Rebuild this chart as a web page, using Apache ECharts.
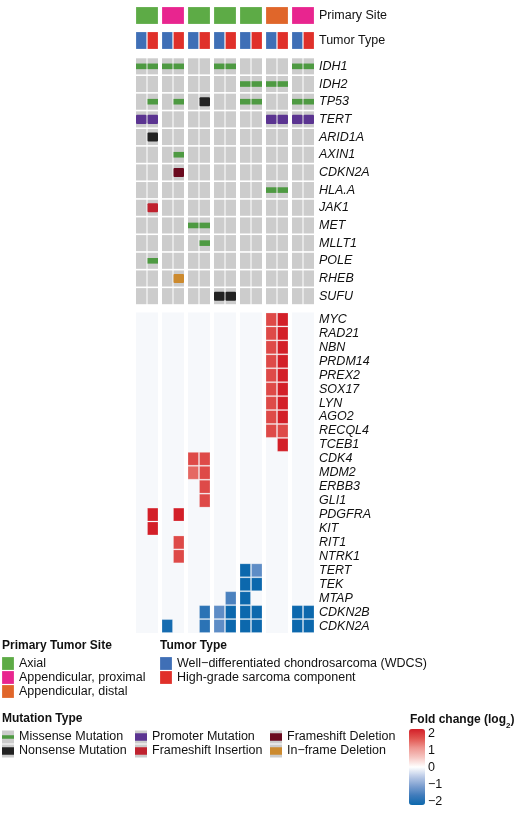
<!DOCTYPE html>
<html><head><meta charset="utf-8">
<script src="https://cdn.jsdelivr.net/npm/echarts@6/dist/echarts.min.js"></script>
<style>html,body{margin:0;padding:0;background:#fff}#c{width:520px;height:813px}</style>
</head><body><div id="c"></div>
<script>
// ---------------- DATA ----------------
const patients = ['P1','P2','P3','P4','P5','P6','P7'];
const primarySite = ['Axial','Appendicular, proximal','Axial','Axial','Axial','Appendicular, distal','Appendicular, proximal'];
const siteNames = ['Axial','Appendicular, proximal','Appendicular, distal'];
const tumorTypes = ['Well\u2212differentiated chondrosarcoma (WDCS)','High-grade sarcoma component'];
const tumorShort = ['WDCS','HG'];
const mutationGenes = ['IDH1','IDH2','TP53','TERT','ARID1A','AXIN1','CDKN2A','HLA.A','JAK1','MET','MLLT1','POLE','RHEB','SUFU'];
const mutationTypes = ['Missense Mutation','Nonsense Mutation','Promoter Mutation','Frameshift Insertion','Frameshift Deletion','In\u2212frame Deletion'];
// [gene, column index (patient*2 + tumor type), mutation type]
const mutations = [
  ['IDH1',0,'Missense Mutation'],['IDH1',1,'Missense Mutation'],['IDH1',2,'Missense Mutation'],['IDH1',3,'Missense Mutation'],
  ['IDH1',6,'Missense Mutation'],['IDH1',7,'Missense Mutation'],['IDH1',12,'Missense Mutation'],['IDH1',13,'Missense Mutation'],
  ['IDH2',8,'Missense Mutation'],['IDH2',9,'Missense Mutation'],['IDH2',10,'Missense Mutation'],['IDH2',11,'Missense Mutation'],
  ['TP53',1,'Missense Mutation'],['TP53',3,'Missense Mutation'],['TP53',5,'Nonsense Mutation'],['TP53',8,'Missense Mutation'],
  ['TP53',9,'Missense Mutation'],['TP53',12,'Missense Mutation'],['TP53',13,'Missense Mutation'],
  ['TERT',0,'Promoter Mutation'],['TERT',1,'Promoter Mutation'],['TERT',10,'Promoter Mutation'],['TERT',11,'Promoter Mutation'],
  ['TERT',12,'Promoter Mutation'],['TERT',13,'Promoter Mutation'],
  ['ARID1A',1,'Nonsense Mutation'],
  ['AXIN1',3,'Missense Mutation'],
  ['CDKN2A',3,'Frameshift Deletion'],
  ['HLA.A',10,'Missense Mutation'],['HLA.A',11,'Missense Mutation'],
  ['JAK1',1,'Frameshift Insertion'],
  ['MET',4,'Missense Mutation'],['MET',5,'Missense Mutation'],
  ['MLLT1',5,'Missense Mutation'],
  ['POLE',1,'Missense Mutation'],
  ['RHEB',3,'In\u2212frame Deletion'],
  ['SUFU',6,'Nonsense Mutation'],['SUFU',7,'Nonsense Mutation']
];
const cnvGenes = ['MYC','RAD21','NBN','PRDM14','PREX2','SOX17','LYN','AGO2','RECQL4','TCEB1','CDK4','MDM2','ERBB3','GLI1','PDGFRA','KIT','RIT1','NTRK1','TERT','TEK','MTAP','CDKN2B','CDKN2A'];
// [gene, column index, log2 fold change]
const cnvValues = [
  ['MYC',10,1.6],['MYC',11,2.0],['RAD21',10,1.6],['RAD21',11,2.0],['NBN',10,1.6],['NBN',11,2.0],
  ['PRDM14',10,1.6],['PRDM14',11,2.0],['PREX2',10,1.6],['PREX2',11,2.0],['SOX17',10,1.6],['SOX17',11,2.0],
  ['LYN',10,1.6],['LYN',11,2.0],['AGO2',10,1.6],['AGO2',11,2.0],['RECQL4',10,1.6],['RECQL4',11,1.6],
  ['TCEB1',11,2.0],
  ['CDK4',4,1.6],['CDK4',5,1.6],['MDM2',4,1.35],['MDM2',5,1.6],['ERBB3',5,1.6],['GLI1',5,1.6],
  ['PDGFRA',1,2.0],['PDGFRA',3,2.0],['KIT',1,2.0],['RIT1',3,1.6],['NTRK1',3,1.6],
  ['TERT',8,-2.0],['TERT',9,-1.25],['TEK',8,-2.0],['TEK',9,-2.0],['MTAP',7,-1.4],['MTAP',8,-2.0],
  ['CDKN2B',5,-1.7],['CDKN2B',6,-1.25],['CDKN2B',7,-2.0],['CDKN2B',8,-2.0],['CDKN2B',9,-2.0],['CDKN2B',12,-2.0],['CDKN2B',13,-2.0],
  ['CDKN2A',2,-1.9],['CDKN2A',5,-1.7],['CDKN2A',6,-1.25],['CDKN2A',7,-2.0],['CDKN2A',8,-2.0],['CDKN2A',9,-2.0],['CDKN2A',12,-2.0],['CDKN2A',13,-2.0]
];
const foldTicks = [-2,-1,0,1,2];

// ---------------- STYLE ----------------
const FONT = 'Liberation Sans, Arial, Helvetica, sans-serif';
const siteColors = {'Axial':'#5dab46','Appendicular, proximal':'#e8258f','Appendicular, distal':'#e0662a'};
const typeColors = ['#3f6fb6','#e0302a'];
const mutColors = {'Missense Mutation':'#4e9a42','Nonsense Mutation':'#222222','Promoter Mutation':'#5b3491',
  'Frameshift Insertion':'#c0222f','Frameshift Deletion':'#6a0a1e','In\u2212frame Deletion':'#cc8a2e'};
const mutFrac = {'Missense Mutation':0.35};
const cnvColors = ['#0c68ad','#3f7bbb','#7d9fd0','#bccbe7','#ffffff','#f6c7c3','#ee9691','#e15550','#d31f28'];
const GREY = '#cccccc';

const columns = patients.flatMap(p => tumorShort.map(t => p + ' ' + t));

function cellX(col, cx, w, outer, inner) {
  let x0 = cx - w / 2, x1 = cx + w / 2;
  if (col % 2 === 0) { x0 += outer; x1 -= inner; } else { x0 += inner; x1 -= outer; }
  return [x0, x1];
}

const GL = 134, GW = 182;
const grids = [
  {left: GL, width: GW, top: 6.5, height: 18},
  {left: GL, width: GW, top: 31.5, height: 18},
  {left: GL, width: GW, top: 57.5, height: 247.5},
  {left: GL, width: GW, top: 312.5, height: 320.5},
  {left: 409, width: 16, top: 734, height: 68}
];
const labelStyle = {fontFamily: FONT, fontSize: 12.5, color: '#111', margin: 3, interval: 0};
function catY(gi, data, italic) {
  return {gridIndex: gi, type: 'category', data: data, position: 'right', inverse: true,
    axisLine: {show: false}, axisTick: {show: false}, splitLine: {show: false},
    axisLabel: Object.assign({}, labelStyle, {fontStyle: italic ? 'italic' : 'normal'})};
}
function hiddenX(gi, data) { return {gridIndex: gi, type: 'category', data: data, show: false}; }

const series = [
  { // primary site
    type: 'custom', xAxisIndex: 0, yAxisIndex: 0,
    data: patients.map((p, i) => [i, 0, siteNames.indexOf(primarySite[i])]),
    renderItem: (params, api) => {
      const c = api.coord([api.value(0), api.value(1)]), s = api.size([1, 1]);
      return {type: 'rect', shape: {x: c[0] - s[0] / 2 + 2, y: c[1] - s[1] / 2 + 0.5, width: s[0] - 4, height: s[1] - 1},
        style: {fill: siteColors[siteNames[api.value(2)]], stroke: 'rgba(255,255,255,0.3)', lineWidth: 0.6}};
    }
  },
  { // tumor type
    type: 'custom', xAxisIndex: 1, yAxisIndex: 1,
    data: columns.map((c, i) => [i, 0, i % 2]),
    renderItem: (params, api) => {
      const col = api.value(0);
      const c = api.coord([col, api.value(1)]), s = api.size([1, 1]);
      const xs = cellX(col, c[0], s[0], 2, 0.5);
      return {type: 'rect', shape: {x: xs[0], y: c[1] - s[1] / 2 + 0.5, width: xs[1] - xs[0], height: s[1] - 1},
        style: {fill: typeColors[api.value(2)], stroke: 'rgba(255,255,255,0.3)', lineWidth: 0.6}};
    }
  },
  { // mutation background
    type: 'custom', xAxisIndex: 2, yAxisIndex: 2,
    data: mutationGenes.flatMap((g, gi) => columns.map((c, ci) => [ci, gi])),
    renderItem: (params, api) => {
      const col = api.value(0);
      const c = api.coord([col, api.value(1)]), s = api.size([1, 1]);
      const xs = cellX(col, c[0], s[0], 2, 0.5);
      return {type: 'rect', shape: {x: xs[0], y: c[1] - s[1] / 2 + 0.8, width: xs[1] - xs[0], height: s[1] - 1.6},
        style: {fill: GREY}};
    }
  },
  { // mutations
    type: 'custom', xAxisIndex: 2, yAxisIndex: 2, z: 3,
    data: mutations.map(m => [m[1], mutationGenes.indexOf(m[0]), mutationTypes.indexOf(m[2])]),
    renderItem: (params, api) => {
      const col = api.value(0);
      const c = api.coord([col, api.value(1)]), s = api.size([1, 1]);
      const xs = cellX(col, c[0], s[0], 2, 0.5);
      const t = mutationTypes[api.value(2)];
      const h = (s[1] - 1.6) * (mutFrac[t] || 0.56);
      return {type: 'rect', shape: {x: xs[0], y: c[1] - h / 2, width: xs[1] - xs[0], height: h, r: t === 'Missense Mutation' ? 0 : 1},
        style: {fill: mutColors[t]}};
    }
  },
  { // cnv background
    type: 'custom', xAxisIndex: 3, yAxisIndex: 3,
    data: columns.map((c, i) => [i, 0]),
    renderItem: (params, api) => {
      const col = api.value(0);
      const c = api.coord([col, 0]), s = api.size([1, 1]);
      const cs = params.coordSys;
      let x0 = c[0] - s[0] / 2, x1 = c[0] + s[0] / 2;
      if (col % 2 === 0) x0 += 2; else x1 -= 2;
      return {type: 'rect', shape: {x: x0, y: cs.y, width: x1 - x0, height: cs.height}, style: {fill: '#f6f8fb'}};
    }
  },
  { // cnv cells
    type: 'custom', xAxisIndex: 3, yAxisIndex: 3, z: 3,
    data: cnvValues.map(v => [v[1], cnvGenes.indexOf(v[0]), v[2]]),
    renderItem: (params, api) => {
      const col = api.value(0);
      const c = api.coord([col, api.value(1)]), s = api.size([1, 1]);
      const xs = cellX(col, c[0], s[0], 2, 0.5);
      return {type: 'rect', shape: {x: xs[0], y: c[1] - s[1] / 2 + 0.5, width: xs[1] - xs[0], height: s[1] - 1},
        style: {fill: api.visual('color'), stroke: 'rgba(255,255,255,0.35)', lineWidth: 0.6}};
    }
  }
];

// ---------------- LEGENDS (graphic) ----------------
const gfx = [];
function title(x, y, t) {
  gfx.push({type: 'text', x: x, y: y, style: {text: t, font: 'bold 12px ' + FONT, fill: '#111', textVerticalAlign: 'middle'}});
}
function label(x, y, t) {
  gfx.push({type: 'text', x: x, y: y, style: {text: t, font: '12.5px ' + FONT, fill: '#111', textVerticalAlign: 'middle'}});
}
title(2, 646, 'Primary Tumor Site');
siteNames.forEach((n, i) => {
  gfx.push({type: 'rect', shape: {x: 2, y: 657 + i * 14, width: 12, height: 13}, style: {fill: siteColors[n], stroke: 'rgba(255,255,255,0.35)', lineWidth: 0.6}});
  label(19, 663.5 + i * 14, n);
});
title(160, 646, 'Tumor Type');
tumorTypes.forEach((n, i) => {
  gfx.push({type: 'rect', shape: {x: 160, y: 657 + i * 14, width: 12, height: 13}, style: {fill: typeColors[i], stroke: 'rgba(255,255,255,0.35)', lineWidth: 0.6}});
  label(177, 663.5 + i * 14, n);
});
title(2, 719, 'Mutation Type');
const mutCols = [2, 135, 270];
mutationTypes.forEach((n, i) => {
  const cx = mutCols[Math.floor(i / 2)], cy = 737 + (i % 2) * 14;
  gfx.push({type: 'rect', shape: {x: cx, y: cy - 6.5, width: 12, height: 13}, style: {fill: GREY}});
  const h = n === 'Missense Mutation' ? 3.5 : 7.5;
  gfx.push({type: 'rect', shape: {x: cx, y: cy - h / 2, width: 12, height: h}, style: {fill: mutColors[n]}});
  label(cx + 17, cy, n);
});
gfx.push({type: 'text', x: 410, y: 720, style: {
  text: '{b|Fold change (log}{s|2}{b|)}', textVerticalAlign: 'middle',
  rich: {b: {font: 'bold 12px ' + FONT, fill: '#111', lineHeight: 14, verticalAlign: 'middle'},
         s: {font: 'bold 8px ' + FONT, fill: '#111', lineHeight: 20, verticalAlign: 'bottom'}}}});

const option = {
  animation: false,
  backgroundColor: '#fff',
  grid: grids,
  xAxis: [hiddenX(0, patients), hiddenX(1, columns), hiddenX(2, columns), hiddenX(3, columns),
    {gridIndex: 4, type: 'value', show: false}],
  yAxis: [
    Object.assign(catY(0, ['Primary Site'], false), {inverse: false}),
    Object.assign(catY(1, ['Tumor Type'], false), {inverse: false}),
    catY(2, mutationGenes, true),
    catY(3, cnvGenes, true),
    {gridIndex: 4, type: 'value', min: foldTicks[0], max: foldTicks[foldTicks.length - 1], interval: 1, position: 'right',
      axisLine: {show: false}, splitLine: {show: false},
      axisTick: {show: true, inside: true, length: 3, lineStyle: {color: '#fff', width: 1}},
      axisLabel: {fontFamily: FONT, fontSize: 12.5, color: '#111', margin: 3, formatter: v => String(v).replace('-', '\u2212')}},
    {gridIndex: 4, type: 'value', min: foldTicks[0], max: foldTicks[foldTicks.length - 1], interval: 1, position: 'left',
      axisLine: {show: false}, splitLine: {show: false}, axisLabel: {show: false},
      axisTick: {show: true, inside: true, length: 3, lineStyle: {color: '#fff', width: 1}}}
  ],
  visualMap: {
    type: 'continuous', seriesIndex: 5, dimension: 2, min: -2, max: 2,
    inRange: {color: cnvColors}, calculable: false, left: 409, top: 729,
    itemWidth: 16, itemHeight: 76, padding: 0, orient: 'vertical', z: 1
  },
  series: series,
  graphic: gfx
};
const chart = echarts.init(document.getElementById('c'), null, {renderer: 'canvas'});
chart.setOption(option);
</script></body></html>
